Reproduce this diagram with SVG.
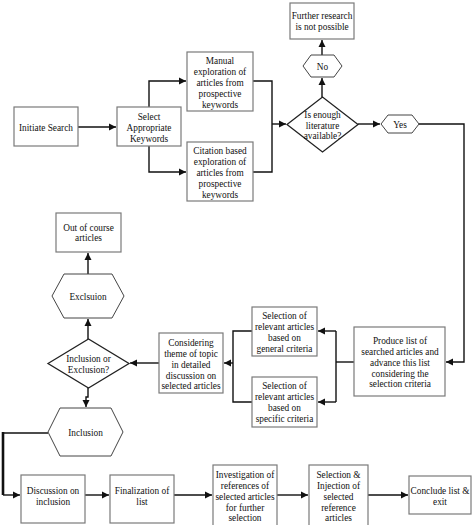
<svg xmlns="http://www.w3.org/2000/svg" width="474" height="525" viewBox="0 0 474 525" font-family="Liberation Serif, Times New Roman, serif">
<style>
.box{fill:#fff;stroke:#7a7a7a;stroke-width:1.2}
.hex{fill:#fff;stroke:#444;stroke-width:1}
.dia{fill:#fff;stroke:#222;stroke-width:1.3}
.t{font-size:9.3px;fill:#111;text-anchor:middle}
.c{fill:none;stroke:#111;stroke-width:1.4}
</style>
<defs>
<marker id="ah" markerWidth="8" markerHeight="8" refX="7" refY="4" orient="auto" markerUnits="userSpaceOnUse">
<path d="M0,0.5 L7,4 L0,7.5 Z" fill="#111"/>
</marker>
</defs>
<rect width="474" height="525" fill="#fff"/>
<g id="connectors">
<path class="c" d="M78,127 H116" marker-end="url(#ah)"/>
<path class="c" d="M149,107 V81 H186" marker-end="url(#ah)"/>
<path class="c" d="M149,146 V172 H186" marker-end="url(#ah)"/>
<path class="c" d="M253,81 H272 V172 H253"/>
<path class="c" d="M272,124 H286" marker-end="url(#ah)"/>
<path class="c" d="M322,97 V78" marker-end="url(#ah)"/>
<path class="c" d="M322,55 V40" marker-end="url(#ah)"/>
<path class="c" d="M358,124 H380" marker-end="url(#ah)"/>
<path class="c" d="M419,124 H464 V362 H446" marker-end="url(#ah)"/>
<path class="c" d="M354,362 H336"/>
<path class="c" d="M336,331 V402"/>
<path class="c" d="M336,331 H318" marker-end="url(#ah)"/>
<path class="c" d="M336,402 H318" marker-end="url(#ah)"/>
<path class="c" d="M252,331 H233 V402 H252"/>
<path class="c" d="M233,363 H224" marker-end="url(#ah)"/>
<path class="c" d="M159,363 H130" marker-end="url(#ah)"/>
<path class="c" d="M88,339 V319" marker-end="url(#ah)"/>
<path class="c" d="M88,274 V253" marker-end="url(#ah)"/>
<path class="c" d="M88,388 V397 H86 V407" marker-end="url(#ah)"/>
<path class="c" d="M48,433 H3"/>
<path fill="none" stroke="#111" stroke-width="2.6" d="M3,432 V495"/>
<path class="c" d="M3,495 H20" marker-end="url(#ah)"/>
<path class="c" d="M85,495 H109" marker-end="url(#ah)"/>
<path class="c" d="M174,495 H212" marker-end="url(#ah)"/>
<path class="c" d="M277,495 H308" marker-end="url(#ah)"/>
<path class="c" d="M368,495 H408" marker-end="url(#ah)"/>
</g>
<g id="initiate" class="t"><rect class="box" x="14" y="107" width="64" height="39"/><text x="46" y="130.5">Initiate Search</text></g>
<g id="keywords" class="t"><rect class="box" x="117" y="107" width="64" height="39"/><text x="149" y="119.5">Select</text><text x="149" y="130.5">Appropriate</text><text x="149" y="141.5">Keywords</text></g>
<g id="manual" class="t"><rect class="box" x="187" y="52" width="66" height="59"/><text x="220" y="63.5">Manual</text><text x="220" y="74.5">exploration of</text><text x="220" y="85.5">articles from</text><text x="220" y="96.5">prospective</text><text x="220" y="107.5">keywords</text></g>
<g id="citation" class="t"><rect class="box" x="187" y="142" width="66" height="59"/><text x="220" y="153.5">Citation based</text><text x="220" y="164.5">exploration of</text><text x="220" y="175.5">articles from</text><text x="220" y="186.5">prospective</text><text x="220" y="197.5">keywords</text></g>
<g id="enough" class="t"><polygon class="dia" points="287,124.5 322.5,97 358,124.5 322.5,152"/><text x="322.5" y="117.5">Is enough</text><text x="322.5" y="128.5">literature</text><text x="322.5" y="139">available?</text></g>
<g id="no" class="t"><polygon class="hex" points="303,66 311,55 334,55 342,66 334,77 311,77"/><text x="322.5" y="69.5">No</text></g>
<g id="further" class="t"><rect class="box" x="290" y="3" width="64" height="36"/><text x="322" y="18.5">Further research</text><text x="322" y="29.5">is not possible</text></g>
<g id="yes" class="t"><polygon class="hex" points="381,124 388,115 412,115 419,124 412,133 388,133"/><text x="400" y="127.5">Yes</text></g>
<g id="produce" class="t"><rect class="box" x="354" y="327" width="91" height="69"/><text x="400" y="343.5">Produce list of</text><text x="400" y="354.5">searched articles and</text><text x="400" y="365.5">advance this list</text><text x="400" y="376.5">considering the</text><text x="400" y="387">selection criteria</text></g>
<g id="general" class="t"><rect class="box" x="252" y="307" width="65" height="49"/><text x="284.5" y="318.5">Selection of</text><text x="284.5" y="329.5">relevant articles</text><text x="284.5" y="340.5">based on</text><text x="284.5" y="351.5">general criteria</text></g>
<g id="specific" class="t"><rect class="box" x="252" y="377" width="65" height="50"/><text x="284.5" y="388.5">Selection of</text><text x="284.5" y="399.5">relevant articles</text><text x="284.5" y="410.5">based on</text><text x="284.5" y="421.5">specific criteria</text></g>
<g id="considering" class="t"><rect class="box" x="159" y="333" width="64" height="60"/><text x="191" y="345.5">Considering</text><text x="191" y="356.5">theme of topic</text><text x="191" y="367.5">in detailed</text><text x="191" y="378.5">discussion on</text><text x="191" y="389">selected articles</text></g>
<g id="inclexcl" class="t"><polygon class="dia" points="48,363.5 88.5,339 129,363.5 88.5,388"/><text x="88.5" y="361.5">Inclusion or</text><text x="88.5" y="372.5">Exclusion?</text></g>
<g id="exclusion" class="t"><polygon class="hex" points="52,296 64,274 112,274 124,296 112,318 64,318"/><text x="88" y="299.5">Exclsuion</text></g>
<g id="outcourse" class="t"><rect class="box" x="56" y="213" width="65" height="39"/><text x="88.5" y="230.5">Out of course</text><text x="88.5" y="240.5">articles</text></g>
<g id="inclusion" class="t"><polygon class="hex" points="48,432 60,408 111,408 123,432 111,456 60,456"/><text x="85.5" y="435.5">Inclusion</text></g>
<g id="discussion" class="t"><rect class="box" x="21" y="475" width="64" height="48"/><text x="53" y="493.5">Discussion on</text><text x="53" y="504.5">inclusion</text></g>
<g id="finalization" class="t"><rect class="box" x="110" y="475" width="64" height="48"/><text x="142" y="493.5">Finalization of</text><text x="142" y="504.5">list</text></g>
<g id="investigation" class="t"><rect class="box" x="213" y="465" width="64" height="62"/><text x="245" y="477.5">Investigation of</text><text x="245" y="488.5">references of</text><text x="245" y="499.5">selected articles</text><text x="245" y="510.5">for further</text><text x="245" y="520.5">selection</text></g>
<g id="injection" class="t"><rect class="box" x="309" y="465" width="59" height="62"/><text x="338.5" y="477.5">Selection &amp;</text><text x="338.5" y="488.5">Injection of</text><text x="338.5" y="499.5">selected</text><text x="338.5" y="510.5">reference</text><text x="338.5" y="520.5">articles</text></g>
<g id="conclude" class="t"><rect class="box" x="409" y="476" width="62" height="38"/><text x="440" y="493.5">Conclude list &amp;</text><text x="440" y="504.5">exit</text></g>
</svg>
